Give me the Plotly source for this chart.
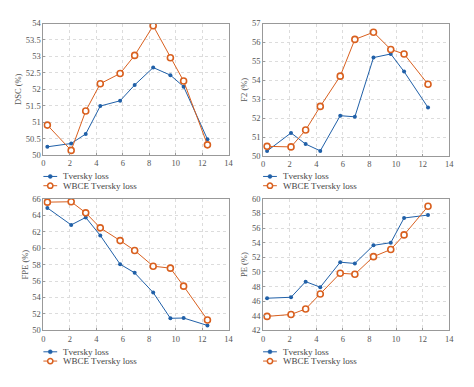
import plotly.graph_objects as go

x_vals = [0.3, 2.1, 3.2, 4.3, 5.8, 6.9, 8.3, 9.6, 10.6, 12.4]

dsc_tversky = [50.25, 50.35, 50.64, 51.49, 51.65, 52.13, 52.66, 52.43, 52.08, 50.48]
dsc_wbce = [50.91, 50.14, 51.34, 52.17, 52.48, 53.03, 53.93, 52.96, 52.25, 50.31]

f2_tversky = [50.26, 51.22, 50.63, 50.27, 52.13, 52.07, 55.20, 55.39, 54.46, 52.56]
f2_wbce = [50.51, 50.48, 51.37, 52.62, 54.22, 56.16, 56.54, 55.63, 55.39, 53.79]

fpe_tversky = [64.9, 62.83, 63.74, 61.55, 58.05, 57.0, 54.6, 51.47, 51.5, 50.6]
fpe_wbce = [65.6, 65.65, 64.3, 62.47, 60.92, 59.72, 57.81, 57.57, 55.38, 51.27]

pe_tversky = [46.4, 46.53, 48.67, 47.91, 51.33, 51.16, 53.64, 54.0, 57.38, 57.78]
pe_wbce = [43.91, 44.18, 44.93, 46.98, 49.82, 49.69, 52.09, 53.07, 55.07, 58.98]

series_names = ["Tversky loss", "WBCE Tversky loss"]
y_titles = ["DSC (%)", "F2 (%)", "FPE (%)", "PE (%)"]
x_ticks = [0, 2, 4, 6, 8, 10, 12, 14]
y_ranges = [(50, 54, 0.5), (50, 57, 1), (50, 66, 2), (42, 60, 2)]

W, H = 474, 387
BLUE = "#2060a8"
ORANGE = "#d9601f"
FONT = "Liberation Serif"

panels = [
    (dsc_tversky, dsc_wbce),
    (f2_tversky, f2_wbce),
    (fpe_tversky, fpe_wbce),
    (pe_tversky, pe_wbce),
]

# pixel boxes: (left, right, top, bottom)
boxes = [(42, 230, 19, 154), (265, 454, 19, 155), (42, 230, 199, 334), (265, 454, 199, 334)]
# legend: (line start x, first row y)
legend_pos = [(42, 176), (265, 176), (42, 356), (265, 356)]
ROW_GAP = 9.5

fig = go.Figure()
layout = dict(
    width=W, height=H, margin=dict(l=0, r=0, t=0, b=0),
    paper_bgcolor="white", plot_bgcolor="white",
    font=dict(family=FONT, size=8, color="#444"),
    showlegend=False,
)
shapes = []
annotations = []

def px(xp):
    return xp / W

def py(yp):
    return 1 - yp / H

for i, (t_vals, w_vals) in enumerate(panels):
    n = "" if i == 0 else str(i + 1)
    xa, ya = "x" + n, "y" + n
    fig.add_trace(go.Scatter(
        x=x_vals, y=t_vals, mode="lines+markers", name=series_names[0],
        line=dict(color=BLUE, width=1), marker=dict(color=BLUE, size=4, symbol="circle"),
        xaxis=xa, yaxis=ya,
    ))
    fig.add_trace(go.Scatter(
        x=x_vals, y=w_vals, mode="lines+markers", name=series_names[1],
        line=dict(color=ORANGE, width=1),
        marker=dict(color="white", size=6, symbol="circle", line=dict(color=ORANGE, width=1.6)),
        xaxis=xa, yaxis=ya,
    ))
    l, r, t, b = boxes[i]
    lo, hi, step = y_ranges[i]
    axis_common = dict(
        showline=True, linecolor="#999", linewidth=1, mirror=True,
        showgrid=True, gridcolor="#dcdcdc", griddash="dot", gridwidth=1,
        zeroline=False, ticks="inside", ticklen=2, tickcolor="#999",
        tickfont=dict(family=FONT, size=8.5, color="#555"),
    )
    layout["xaxis" + n] = dict(
        domain=[l / W, r / W], anchor=ya, range=[0, 14], tickvals=x_ticks, **axis_common,
    )
    ticks = []
    v = lo
    while v <= hi + 1e-9:
        ticks.append(round(v, 2))
        v += step
    layout["yaxis" + n] = dict(
        domain=[1 - b / H, 1 - t / H], anchor=xa, range=[lo, hi], tickvals=ticks,
        title=dict(text=y_titles[i], font=dict(family=FONT, size=8.5, color="#555"), standoff=2),
        **axis_common,
    )
    # custom compact legend
    lx, ly = legend_pos[i]
    for k, (name, col) in enumerate(zip(series_names, [BLUE, ORANGE])):
        yy = ly + k * ROW_GAP
        shapes.append(dict(type="line", xref="paper", yref="paper",
                           x0=px(lx), x1=px(lx + 14), y0=py(yy), y1=py(yy),
                           line=dict(color=col, width=1)))
        cx, cy = px(lx + 7), py(yy)
        if k == 0:
            shapes.append(dict(type="circle", xref="paper", yref="paper",
                               xsizemode="pixel", ysizemode="pixel", xanchor=cx, yanchor=cy,
                               x0=-2, x1=2, y0=-2, y1=2,
                               fillcolor=col, line=dict(color=col, width=0.5)))
        else:
            shapes.append(dict(type="circle", xref="paper", yref="paper",
                               xsizemode="pixel", ysizemode="pixel", xanchor=cx, yanchor=cy,
                               x0=-2.6, x1=2.6, y0=-2.6, y1=2.6,
                               fillcolor="white", line=dict(color=col, width=1.5)))
        annotations.append(dict(text=name, xref="paper", yref="paper",
                                x=px(lx + 18), y=py(yy), xanchor="left", yanchor="middle",
                                showarrow=False, font=dict(family=FONT, size=9, color="#444")))

layout["shapes"] = shapes
layout["annotations"] = annotations
fig.update_layout(**layout)
fig.write_html("out.html", config={"displayModeBar": False},
               post_script="document.body.style.margin='0';")
